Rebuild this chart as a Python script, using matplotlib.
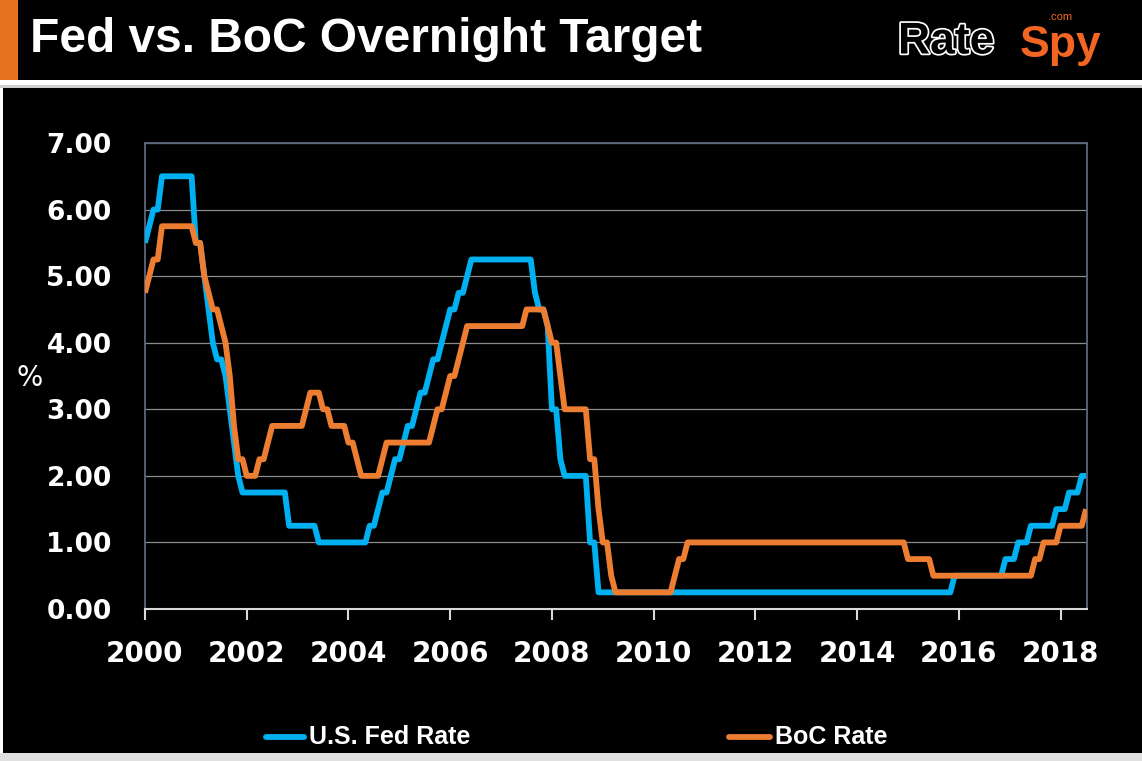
import numpy as np
import matplotlib
matplotlib.use("Agg")
import matplotlib.pyplot as plt
from matplotlib.lines import Line2D
from matplotlib.patches import Rectangle
import matplotlib.patheffects as pe

# monthly rates, stored as runs: value held for n months (Jan 2000 .. Jul 2018)
fed_rate = [5.5, 5.75, 6.0, 6.5, 5.5, 5.0, 4.5, 4.0, 3.75, 3.5, 3.0, 2.5, 2.0,
            1.75, 1.25, 1.0, 1.25, 1.5, 1.75, 2.0, 2.25, 2.5, 2.75, 3.0, 3.25,
            3.5, 3.75, 4.0, 4.25, 4.5, 4.75, 5.0, 5.25, 4.75, 4.5, 4.25, 3.0,
            2.25, 2.0, 1.0, 0.25, 0.5, 0.75, 1.0, 1.25, 1.5, 1.75, 2.0]
fed_months = [1, 1, 2, 8, 2, 1, 1, 1, 2, 1, 1, 1, 1,
              11, 7, 12, 2, 1, 2, 1, 2, 1, 2, 1, 2,
              1, 2, 1, 1, 2, 2, 1, 15, 1, 2, 1, 2,
              1, 6, 2, 84, 12, 3, 3, 6, 3, 3, 2]

boc_rate = [4.75, 5.0, 5.25, 5.75, 5.5, 5.0, 4.75, 4.5, 4.25, 4.0, 3.5, 2.75,
            2.25, 2.0, 2.25, 2.5, 2.75, 3.0, 3.25, 3.0, 2.75, 2.5, 2.25, 2.0,
            2.25, 2.5, 2.75, 3.0, 3.25, 3.5, 3.75, 4.0, 4.25, 4.5, 4.25, 4.0,
            3.5, 3.0, 2.25, 1.5, 1.0, 0.5, 0.25, 0.5, 0.75, 1.0, 0.75, 0.5,
            0.75, 1.0, 1.25, 1.5]
boc_months = [1, 1, 2, 8, 2, 1, 1, 2, 1, 1, 1, 1,
              2, 3, 2, 1, 8, 1, 3, 2, 4, 2, 1, 5,
              1, 11, 1, 2, 1, 2, 1, 1, 14, 5, 1, 2,
              1, 6, 2, 1, 2, 1, 14, 1, 2, 52, 6, 24,
              2, 4, 6, 1]

start_year = 2000
year_ticks = [2000, 2002, 2004, 2006, 2008, 2010, 2012, 2014, 2016, 2018]
pct_ticks = [0, 1, 2, 3, 4, 5, 6, 7]

fed = np.repeat(fed_rate, fed_months)
boc = np.repeat(boc_rate, boc_months)
years = start_year + np.arange(len(fed)) / 12.0

BLUE = "#00B0F0"
ORANGE = "#ED7D31"
NARROW = ["Liberation Sans", "DejaVu Sans"]

W, H = 1142, 761
fig = plt.figure(figsize=(W / 100, H / 100), dpi=100, facecolor="white")


def band(x, y, w, h, color):
    # rectangle in pixel units from the top-left corner, behind the axes
    fig.add_artist(Rectangle((x / W, 1 - (y + h) / H), w / W, h / H,
                             transform=fig.transFigure, facecolor=color,
                             edgecolor="none", zorder=-5))


band(0, 0, W, 80, "black")
band(0, 0, 18, 80, "#E8731F")
band(0, 85, W, 3, "#d0d0d0")
band(3, 88, W, 665, "black")
band(0, 753, W, 8, "#e0e0e0")

fig.text(30 / W, 1 - 39 / H, "Fed vs. BoC Overnight Target", color="white",
         fontsize=34.5, fontweight="bold", family=NARROW, va="center", ha="left")

# logo as text
stroke = [pe.withStroke(linewidth=2.5, foreground="white")]
fig.text(898 / W, 1 - 42 / H, "Rate", color="black", fontsize=32,
         fontweight="bold", family=NARROW, va="center", ha="left",
         path_effects=stroke)
fig.text(1020 / W, 1 - 46 / H, "Spy", color="#F26522", fontsize=32,
         fontweight="bold", family=NARROW, va="center", ha="left")
fig.text(1048 / W, 1 - 17 / H, ".com", color="#F26522", fontsize=8,
         family=NARROW, va="center", ha="left")

ax = fig.add_axes([145 / W, 1 - 609 / H, (1087 - 145) / W, (609 - 143) / H])
ax.set_facecolor("black")

ax.plot(years, fed, color=BLUE, linewidth=4.2, solid_joinstyle="round",
        solid_capstyle="butt", label="U.S. Fed Rate", zorder=3)
ax.plot(years, boc, color=ORANGE, linewidth=4.2, solid_joinstyle="round",
        solid_capstyle="butt", label="BoC Rate", zorder=3)

ax.set_xlim(2000, 2018.52)
ax.set_ylim(0, 7)

ax.set_yticks(pct_ticks)
ax.set_yticklabels([f"{v:.2f}" for v in pct_ticks], fontweight="bold",
                   fontsize=19, color="white")
ax.set_xticks(year_ticks)
ax.set_xticklabels([str(y) for y in year_ticks], fontweight="bold",
                   fontsize=20, color="white")
ax.tick_params(axis="y", length=0, pad=24)
ax.tick_params(axis="x", length=8, width=1.5, color="#d9d9d9", pad=14)

ax.yaxis.grid(True, color="#8c8c8c", linewidth=0.9)
ax.set_axisbelow(True)

for side in ["left", "top", "right"]:
    ax.spines[side].set_color("#5b6780")
    ax.spines[side].set_linewidth(1.3)
ax.spines["bottom"].set_color("#d9d9d9")
ax.spines["bottom"].set_linewidth(1.5)

fig.text(30 / W, 1 - 378 / H, "%", color="white", fontsize=20,
         va="center", ha="center")

# legend drawn by hand, entries far apart as in the original
leg_y = 1 - 737 / H
fig.add_artist(Line2D([266 / W, 304 / W], [leg_y, leg_y], color=BLUE,
                      linewidth=4.2, solid_capstyle="round",
                      transform=fig.transFigure))
fig.text(309 / W, leg_y, "U.S. Fed Rate", color="white", fontsize=18,
         fontweight="bold", family=NARROW, va="center", ha="left")
fig.add_artist(Line2D([729 / W, 770 / W], [leg_y, leg_y], color=ORANGE,
                      linewidth=4.2, solid_capstyle="round",
                      transform=fig.transFigure))
fig.text(775 / W, leg_y, "BoC Rate", color="white", fontsize=18,
         fontweight="bold", family=NARROW, va="center", ha="left")

fig.savefig("out.png", dpi=100, facecolor=fig.get_facecolor())
